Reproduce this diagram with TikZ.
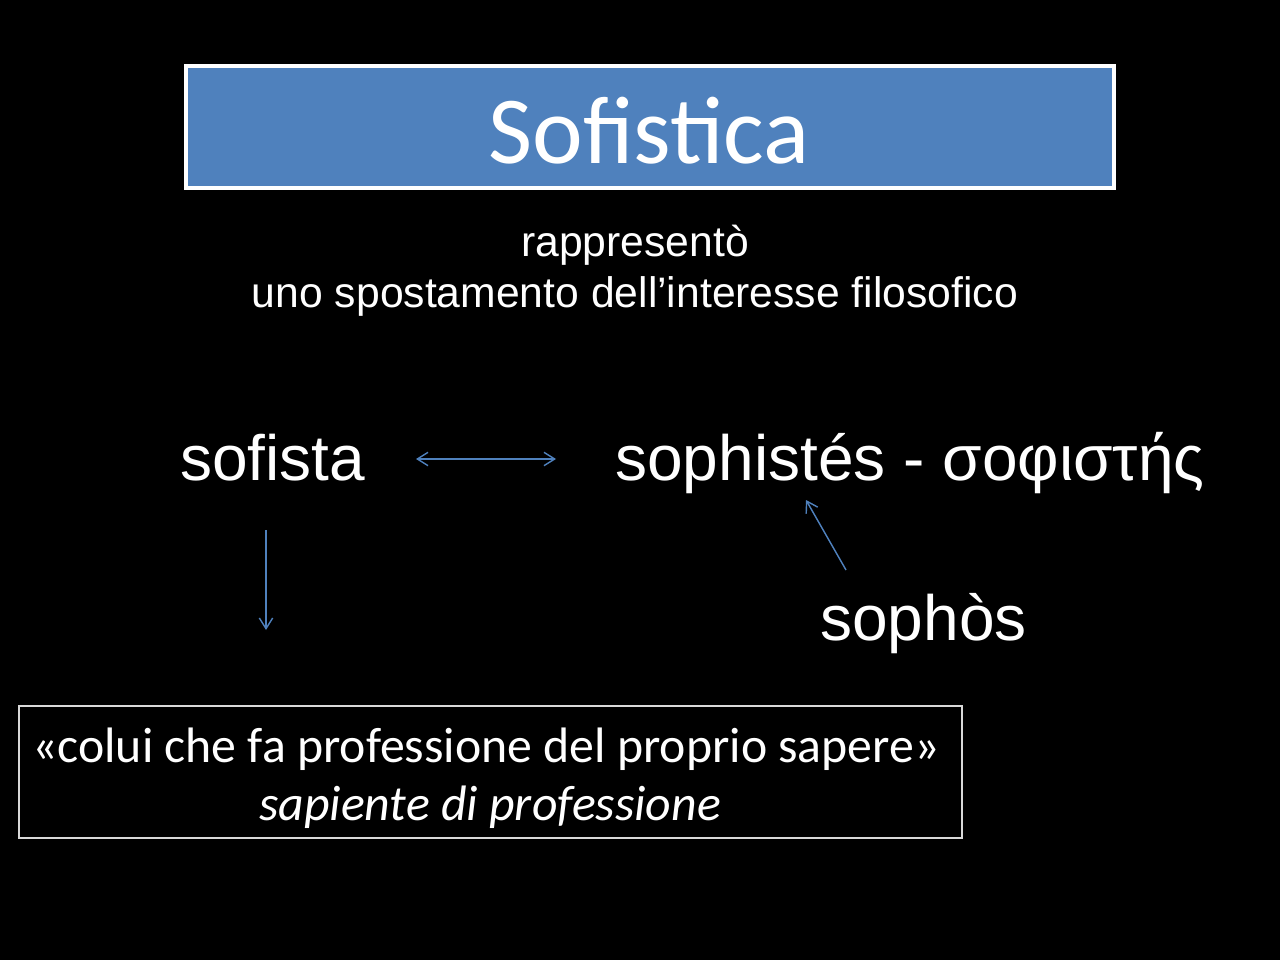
\documentclass[tikz,border=0pt]{standalone}
\usepackage{fontspec}
\setmainfont{Liberation Sans}
\newfontfamily\calibri{Carlito}
\usetikzlibrary{arrows.meta}
\definecolor{slideblue}{HTML}{4F81BD}
\tikzset{
  tipstyle/.tip={Straight Barb[length=6pt,width=7.5pt,line width=0.8pt]},
  conn/.style={draw=slideblue, line width=0.8pt, -tipstyle},
  conn2/.style={draw=slideblue, line width=0.8pt, tipstyle-tipstyle},
  wtext/.style={text=white, inner sep=0pt},
}
\begin{document}
\begin{tikzpicture}[x=0.5625pt,y=-0.5625pt]
\fill[black] (0,0) rectangle (1280,960);
\useasboundingbox (0,0) rectangle (1280,960);
% title
\node[draw=white, line width=2.4pt, fill=slideblue, minimum width=928*0.5625pt, minimum height=122*0.5625pt, inner sep=0pt] (titlebox) at (650,127) {};
\node[wtext, anchor=base, font=\calibri\fontsize{54}{60}\selectfont] (title) at (649,164) {Sofistica};
% subtitle
\node[wtext, anchor=base, font=\fontsize{24}{28}\selectfont] (sub1) at (635,257) {rappresentò};
\node[wtext, anchor=base, font=\fontsize{24}{28}\selectfont] (sub2) at (635,308) {uno spostamento dell’interesse filosofico};
% words
\node[wtext, anchor=base west, font=\fontsize{36}{40}\selectfont] (sofista) at (180,480) {sofista};
\node[wtext, anchor=base west, font=\fontsize{36}{40}\selectfont] (sophistes) at (615,480) {sophistés - σοφιστής};
\node[wtext, anchor=base west, font=\fontsize{36}{40}\selectfont] (sophos) at (820,640) {sophòs};
% definition box
\node[draw=white!85!black, line width=0.6pt, minimum width=943*0.5625pt, minimum height=132*0.5625pt, inner sep=0pt] (defbox) at (490.5,772) {};
\node[wtext, anchor=base, font=\calibri\fontsize{28}{32}\selectfont] (def1) at (486,762) {«colui che fa professione del proprio sapere»};
\node[wtext, anchor=base, font=\calibri\itshape\fontsize{28}{32}\selectfont] (def2) at (490,820) {sapiente di professione};
% arrows
\coordinate (hL) at (416,459);
\coordinate (hR) at (556,459);
\coordinate (vT) at (266,530);
\coordinate (vB) at (266,630);
\coordinate (dS) at (846,570);
\coordinate (dE) at (806,500);
\draw[conn2] (hL) -- (hR);
\draw[conn] (vT) -- (vB);
\draw[conn] (dS) -- (dE);
\end{tikzpicture}
\end{document}
